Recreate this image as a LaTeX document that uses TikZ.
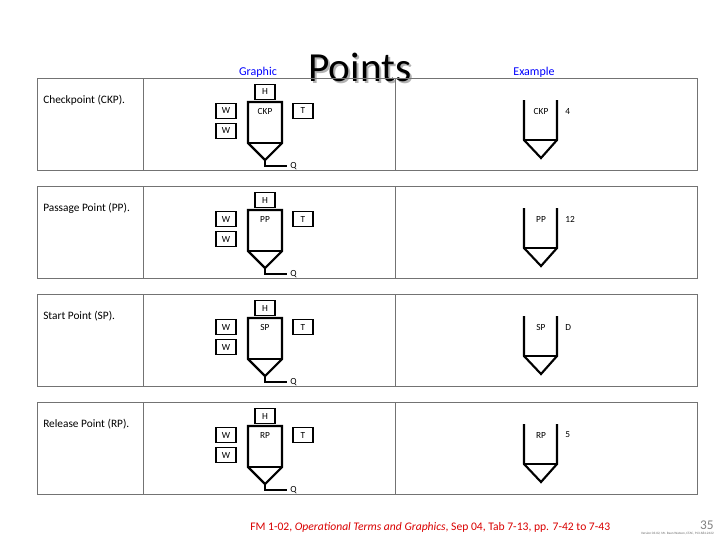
\documentclass[tikz,border=0pt]{standalone}
\usepackage{fontspec}
\setmainfont{Carlito}
\begin{document}
\begin{tikzpicture}[x=0.75pt,y=-0.75pt,
  panel/.style={draw=black!55,line width=0.6pt},
  sm/.style={draw,line width=1.4pt,minimum width=20pt*0.75,minimum height=15pt*0.75,inner sep=0pt,font=\fontsize{7}{8}\selectfont},
  lbl/.style={font=\fontsize{7}{8}\selectfont,inner sep=0pt},
  sym/.style={line width=1.6pt},
  txt/.style={font=\fontsize{8.5}{10}\selectfont,anchor=west,inner sep=0pt}]
\useasboundingbox (0,0) rectangle (720,540);
\node[font=\fontsize{31}{33}\selectfont,text=black!30] (tsh) at (362,69) {Points};
\node[font=\fontsize{31}{33}\selectfont] (title) at (360,67) {Points};
\node[font=\fontsize{9}{10}\selectfont,text=blue] (g) at (258,72) {Graphic};
\node[font=\fontsize{9}{10}\selectfont,text=blue] (e) at (534,72) {Example};
\foreach \i/\name/\ab/\ex in {0/Checkpoint (CKP)./CKP/4,1/Passage Point (PP)./PP/12,2/Start Point (SP)./SP/D,3/Release Point (RP)./RP/5}{
  \begin{scope}[yshift={-\i*108*0.75pt}]
  \draw[panel] (37,78) rectangle (697,170);
  \draw[panel] (143,78) -- (143,170);
  \draw[panel] (395,78) -- (395,170);
  \node[txt] (lab\i) at (43,100) {\name};
  \draw[sym] (282,102) -- (282,143) -- (265,160) -- (248,143) -- (248,102) -- cycle;
  \draw[sym] (248,143) -- (282,143);
  \draw[sym] (265,160) -- (265,166) -- (287,166);
  \node[lbl] (ab\i) at (265,111) {\ab};
  \node[lbl,anchor=west] (q\i) at (290,166) {Q};
  \node[sm] (h\i) at (265,92) {H};
  \node[sm] (w\i) at (226,111) {W};
  \node[sm] (ww\i) at (226,131) {W};
  \node[sm] (t\i) at (303,111) {T};
  \draw[sym] (524,100) -- (524,140) -- (541,158) -- (557,140) -- (557,100);
  \draw[sym] (524,140) -- (557,140);
  \node[lbl] (eab\i) at (541,111) {\ab};
  \node[lbl,anchor=west] (ex\i) at (565,111) {\ex};
  \end{scope}}
\node[font=\fontsize{8.7}{11}\selectfont,text=red!85!black,anchor=west,inner sep=0pt] (ref) at (250,527) {FM 1-02, \textit{Operational Terms and Graphics}, Sep 04, Tab 7-13, pp. 7-42 to 7-43};
\node[font=\fontsize{10}{12}\selectfont,text=black!50,anchor=east,inner sep=0pt] (pg) at (714,525) {35};
\node[font=\fontsize{2.5}{3}\selectfont,text=black!60,anchor=east,inner sep=0pt] (ver) at (714,534) {Version 03-02, Mr. Raun Watson, CTAC, 913-684-2422};
\end{tikzpicture}
\end{document}
